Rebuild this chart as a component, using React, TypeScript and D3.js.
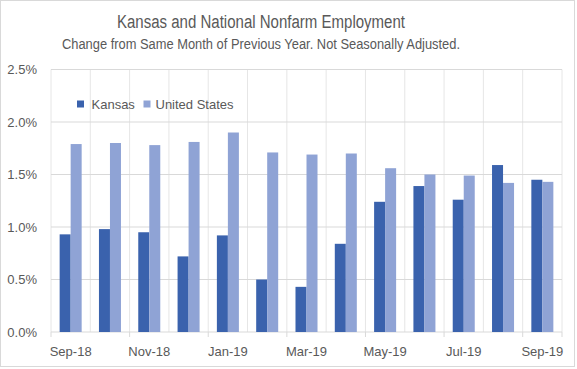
import React from "react";
import * as d3 from "d3";

const months = ["Sep-18","Oct-18","Nov-18","Dec-18","Jan-19","Feb-19","Mar-19","Apr-19","May-19","Jun-19","Jul-19","Aug-19","Sep-19"];
const kansas = [0.93,0.98,0.95,0.72,0.92,0.50,0.43,0.84,1.24,1.39,1.26,1.59,1.45];
const unitedStates = [1.79,1.80,1.78,1.81,1.90,1.71,1.69,1.70,1.56,1.50,1.49,1.42,1.43];
const yTicks = [0,0.5,1,1.5,2,2.5];
const seriesNames = ["Kansas","United States"];
const colors = ["#3a62ad","#8fa3d5"];

const W = 577, H = 369;
const m = { left: 51, right: 562, top: 69.5, bottom: 332 };
const font = "'Liberation Sans', Arial, sans-serif";
const textColor = "#595959";

export default function App() {
  const x = d3.scaleBand<string>().domain(months).range([m.left, m.right]).paddingInner(0).paddingOuter(0);
  const y = d3.scaleLinear().domain([0, 2.5]).range([m.bottom, m.top]);
  const bw = x.bandwidth();
  const barW = bw * 0.28;
  const series = [kansas, unitedStates];
  return (
    <svg width={W} height={H} style={{ position: "absolute", left: 0, top: 0, background: "#fff" }}>
      <rect x={0.5} y={0.5} width={574} height={366} fill="#fff" stroke="#d9d9d9" />
      <text x={117} y={28} fontFamily={font} fontSize={18} fill={textColor} textLength={288} lengthAdjust="spacingAndGlyphs">Kansas and National Nonfarm Employment</text>
      <text x={62} y={48.5} fontFamily={font} fontSize={14} fill={textColor} textLength={398} lengthAdjust="spacingAndGlyphs">Change from Same Month of Previous Year. Not Seasonally Adjusted.</text>
      {months.map((mo, i) => (
        <line key={"v" + i} x1={x(mo)!} x2={x(mo)!} y1={m.top} y2={m.bottom} stroke="#e6e6e6" />
      ))}
      <line x1={m.right} x2={m.right} y1={m.top} y2={m.bottom} stroke="#e6e6e6" />
      {yTicks.map((t) => (
        <g key={t}>
          <line x1={m.left} x2={m.right} y1={y(t)} y2={y(t)} stroke="#d9d9d9" />
          <text x={37} y={y(t) + 4.5} textAnchor="end" fontFamily={font} fontSize={13} fill={textColor}>{d3.format(".1%")(t / 100)}</text>
        </g>
      ))}
      {series.map((vals, s) =>
        vals.map((v, i) => {
          const cx = x(months[i])! + bw / 2;
          const bx = s === 0 ? cx - barW : cx;
          return <rect key={s + "-" + i} x={bx} y={y(v)} width={barW} height={y(0) - y(v)} fill={colors[s]} />;
        })
      )}
      {months.map((mo, i) =>
        i % 2 === 0 ? (
          <g key={"t" + i}>
            <line x1={x(mo)!} x2={x(mo)!} y1={m.bottom} y2={m.bottom + 5} stroke="#d9d9d9" />
            <text x={x(mo)! + bw / 2} y={356} textAnchor="middle" fontFamily={font} fontSize={13} fill={textColor}>{mo}</text>
          </g>
        ) : null
      )}
      <line x1={m.right} x2={m.right} y1={m.bottom} y2={m.bottom + 5} stroke="#d9d9d9" />
      <g>
        <rect x={77} y={100.5} width={7} height={7} fill={colors[0]} />
        <text x={91.5} y={109} fontFamily={font} fontSize={13} fill={textColor}>{seriesNames[0]}</text>
        <rect x={143.5} y={100.5} width={7} height={7} fill={colors[1]} />
        <text x={155.5} y={109} fontFamily={font} fontSize={13} fill={textColor}>{seriesNames[1]}</text>
      </g>
    </svg>
  );
}
